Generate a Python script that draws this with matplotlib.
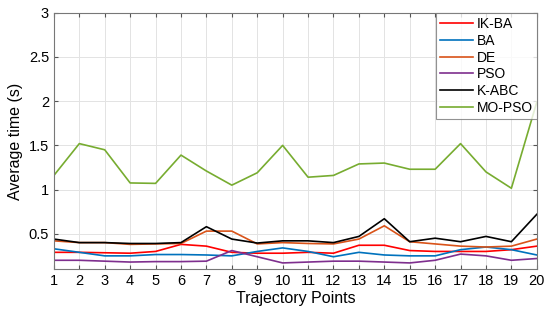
import numpy as np
import matplotlib.pyplot as plt

plt.rcParams['font.family'] = ['Liberation Sans', 'DejaVu Sans']

points = np.arange(1, 21)

ik_ba = [0.29, 0.29, 0.285, 0.28, 0.30, 0.38, 0.36, 0.29, 0.28, 0.28,
         0.29, 0.28, 0.37, 0.37, 0.31, 0.30, 0.30, 0.30, 0.32, 0.36]
ba = [0.33, 0.29, 0.25, 0.25, 0.265, 0.265, 0.26, 0.25, 0.30, 0.34,
      0.30, 0.24, 0.29, 0.26, 0.25, 0.25, 0.32, 0.35, 0.32, 0.26]
de = [0.42, 0.40, 0.40, 0.38, 0.385, 0.39, 0.53, 0.53, 0.385, 0.40,
      0.39, 0.385, 0.44, 0.59, 0.41, 0.385, 0.36, 0.35, 0.36, 0.44]
pso = [0.20, 0.20, 0.19, 0.18, 0.185, 0.185, 0.19, 0.31, 0.24, 0.17,
       0.18, 0.19, 0.19, 0.18, 0.17, 0.20, 0.27, 0.25, 0.20, 0.22]
k_abc = [0.44, 0.40, 0.40, 0.39, 0.39, 0.40, 0.58, 0.44, 0.395, 0.42,
         0.42, 0.40, 0.47, 0.67, 0.41, 0.45, 0.41, 0.47, 0.41, 0.72]
mo_pso = [1.16, 1.52, 1.45, 1.075, 1.07, 1.39, 1.21, 1.05, 1.19, 1.50,
          1.14, 1.16, 1.29, 1.30, 1.23, 1.23, 1.52, 1.20, 1.015, 1.99]

fig = plt.figure(figsize=(5.5, 3.2), dpi=100)
ax = fig.add_axes([0.098, 0.159, 0.878, 0.801])

ax.plot(points, ik_ba, color='#FF0000', lw=1.2, label='IK-BA')
ax.plot(points, ba, color='#0072BD', lw=1.2, label='BA')
ax.plot(points, de, color='#D95319', lw=1.2, label='DE')
ax.plot(points, pso, color='#7E2F8E', lw=1.2, label='PSO')
ax.plot(points, k_abc, color='black', lw=1.2, label='K-ABC')
ax.plot(points, mo_pso, color='#77AC30', lw=1.2, label='MO-PSO')

ax.set_xlim(1, 20)
ax.set_ylim(0.1, 3)
ax.set_xticks(points)
ax.set_yticks([0.5, 1, 1.5, 2, 2.5, 3])
ax.set_yticklabels(['0.5', '1', '1.5', '2', '2.5', '3'])
ax.grid(True, color='#e3e3e3', lw=0.7)
ax.tick_params(direction='in', top=True, right=True, labelsize=10.5,
               color='#555555', length=3)
for s in ax.spines.values():
    s.set_color('#777777')
    s.set_linewidth(0.8)

ax.set_xlabel('Trajectory Points', fontsize=11.5, labelpad=2)
ax.set_ylabel('Average time (s)', fontsize=11.5, labelpad=4)

leg = ax.legend(loc='upper right', borderaxespad=0, fancybox=False,
                edgecolor='#777777', fontsize=10, handlelength=2.4,
                handletextpad=0.25, labelspacing=0.2, borderpad=0.3)
leg.get_frame().set_linewidth(0.8)

fig.savefig('out.png')
